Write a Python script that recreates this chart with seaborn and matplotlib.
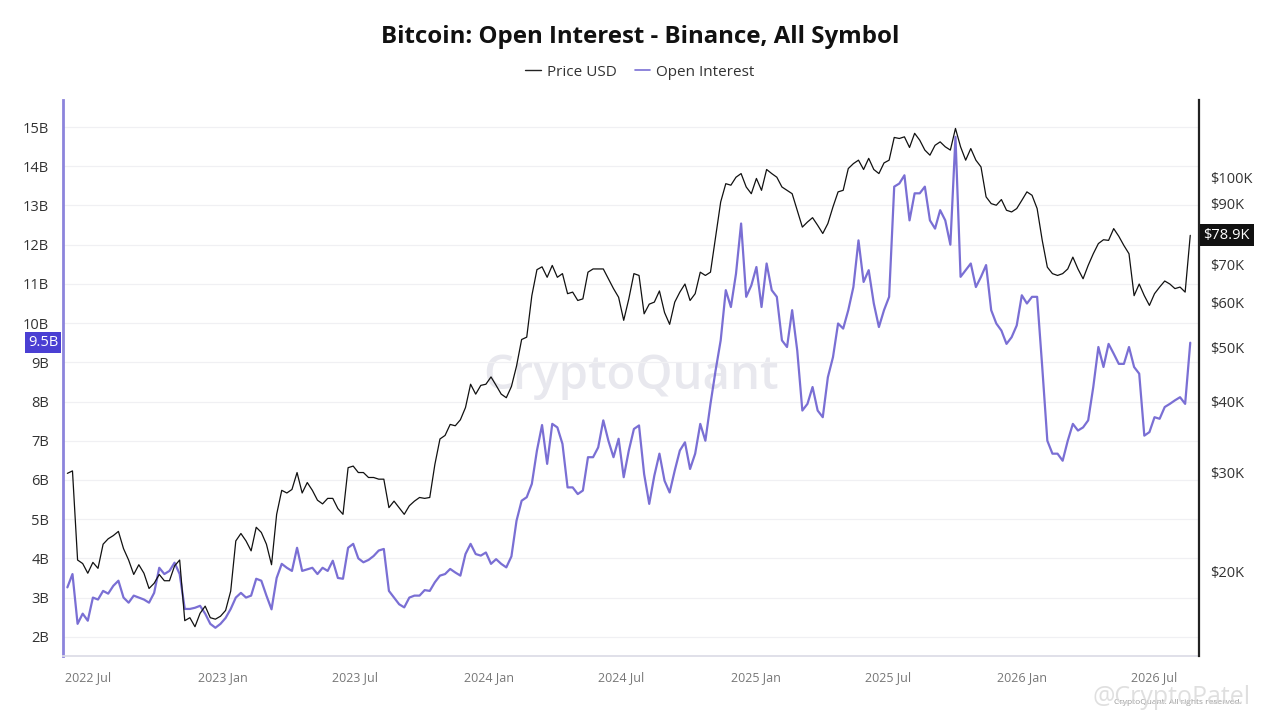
import matplotlib
matplotlib.use("Agg")
import matplotlib.pyplot as plt
import matplotlib.dates as mdates
import matplotlib.transforms as mtransforms
from matplotlib.lines import Line2D
import pandas as pd
import seaborn as sns

# weekly samples, starting 2022-06-02
start_date = "2022-06-02"

price_k = [
    29.9, 30.2, 21.0, 20.7, 19.9, 20.8, 20.3, 22.4, 22.9, 23.2,
    23.6, 22.0, 21.0, 19.8, 20.6, 19.9, 18.7, 19.1, 19.8, 19.3,
    19.3, 20.5, 21.0, 16.4, 16.6, 16.0, 16.9, 17.4, 16.6, 16.5,
    16.7, 17.1, 18.5, 22.7, 23.4, 22.7, 21.8, 24.0, 23.5, 22.4,
    20.6, 25.3, 27.9, 27.6, 28.0, 30.0, 27.6, 28.8, 27.9, 26.8,
    26.4, 27.0, 27.0, 25.9, 25.3, 30.6, 30.8, 30.0, 30.0, 29.4,
    29.4, 29.2, 29.2, 26.0, 26.7, 26.0, 25.3, 26.2, 26.7, 27.1,
    27.0, 27.1, 31.0, 34.4, 34.9, 36.5, 36.3, 37.2, 39.1, 43.0,
    41.3, 42.8, 43.0, 44.3, 42.8, 41.3, 40.7, 42.6, 46.3, 51.6,
    52.1, 61.7, 68.6, 69.4, 66.5, 69.8, 66.5, 67.5, 62.2, 62.6,
    60.5, 60.9, 67.9, 68.8, 68.8, 68.8, 66.1, 63.5, 61.3, 55.8,
    60.9, 67.5, 67.0, 57.3, 59.6, 60.1, 62.9, 57.6, 54.9, 60.1,
    62.6, 64.7, 60.5, 62.2, 67.9, 67.0, 67.9, 78.4, 90.4, 97.4,
    96.8, 100.0, 101.5, 96.1, 93.5, 99.5, 94.8, 103.2, 101.5, 100.0,
    96.1, 94.8, 93.5, 87.4, 81.6, 83.3, 84.8, 82.2, 79.5, 82.8,
    88.6, 94.2, 94.8, 103.6, 105.7, 107.2, 103.2, 108.0, 103.2, 101.5,
    106.0, 107.2, 117.6, 117.1, 117.9, 112.9, 119.6, 116.3, 111.7, 109.4,
    113.9, 115.5, 113.2, 111.7, 122.0, 113.2, 107.2, 112.4, 107.2, 104.3,
    92.3, 89.8, 89.2, 91.3, 87.4, 86.8, 88.0, 91.0, 94.2, 92.9,
    88.0, 77.3, 69.3, 67.5, 67.0, 67.5, 68.8, 72.2, 68.8, 66.1,
    69.8, 73.2, 76.3, 77.5, 77.3, 81.1, 78.6, 75.7, 73.2, 61.7,
    64.7, 61.7, 59.3, 62.2, 63.9, 65.5, 64.7, 63.5, 63.9, 62.6,
    78.9,
]

open_interest_b = [
    3.26, 3.6, 2.33, 2.59, 2.41, 3.0, 2.95, 3.17, 3.1, 3.3,
    3.43, 3.0, 2.87, 3.05, 3.0, 2.95, 2.87, 3.12, 3.76, 3.6,
    3.68, 3.89, 3.6, 2.71, 2.71, 2.74, 2.79, 2.59, 2.33, 2.23,
    2.33, 2.48, 2.71, 3.0, 3.12, 3.0, 3.05, 3.48, 3.43, 3.05,
    2.7, 3.5, 3.86, 3.76, 3.68, 4.27, 3.68, 3.72, 3.76, 3.6,
    3.76, 3.68, 3.94, 3.5, 3.48, 4.27, 4.37, 4.0, 3.9, 3.96,
    4.06, 4.2, 4.24, 3.17, 3.0, 2.83, 2.75, 3.0, 3.05, 3.05,
    3.19, 3.17, 3.39, 3.56, 3.6, 3.73, 3.64, 3.56, 4.11, 4.37,
    4.11, 4.07, 4.15, 3.86, 3.98, 3.86, 3.77, 4.05, 4.96, 5.47,
    5.56, 5.9, 6.75, 7.4, 6.41, 7.43, 7.34, 6.92, 5.81, 5.81,
    5.64, 5.73, 6.58, 6.58, 6.83, 7.52, 7.0, 6.58, 7.05, 6.07,
    6.75, 7.3, 7.39, 6.15, 5.39, 6.11, 6.67, 5.98, 5.68, 6.24,
    6.75, 6.96, 6.28, 6.67, 7.43, 7.0, 7.94, 8.79, 9.56, 10.84,
    10.41, 11.26, 12.54, 10.67, 10.96, 11.43, 10.41, 11.52, 10.84, 10.67,
    9.56, 9.39, 10.33, 9.3, 7.77, 7.94, 8.37, 7.77, 7.6, 8.62,
    9.13, 9.99, 9.86, 10.33, 10.92, 12.11, 11.05, 11.35, 10.5, 9.9,
    10.33, 10.67, 13.48, 13.56, 13.77, 12.62, 13.31, 13.31, 13.48, 12.62,
    12.41, 12.88, 12.62, 12.0, 14.75, 11.18, 11.35, 11.52, 10.92, 11.18,
    11.48, 10.33, 9.99, 9.81, 9.47, 9.64, 9.94, 10.71, 10.5, 10.67,
    10.67, 8.88, 7.0, 6.67, 6.67, 6.49, 7.0, 7.43, 7.26, 7.34,
    7.52, 8.37, 9.39, 8.88, 9.47, 9.22, 8.96, 8.96, 9.39, 8.88,
    8.71, 7.13, 7.22, 7.6, 7.56, 7.86, 7.94, 8.03, 8.11, 7.94,
    9.5,
]

oi_ticks = [2, 3, 4, 5, 6, 7, 8, 9, 10, 11, 12, 13, 14, 15]
# $80K sits under the last-value badge, so it is not listed
price_ticks = [20, 30, 40, 50, 60, 70, 90, 100]
date_ticks = ["2022-07-01", "2023-01-01", "2023-07-01", "2024-01-01", "2024-07-01",
              "2025-01-01", "2025-07-01", "2026-01-01", "2026-07-01"]

dates = pd.date_range(start_date, periods=len(price_k), freq="7D")
df = pd.DataFrame({"date": dates, "price": price_k, "oi": open_interest_b})

PURPLE = "#7a6fd4"
sns.set_theme(style="white")
plt.rcParams["font.family"] = ["Open Sans", "DejaVu Sans"]

fig = plt.figure(figsize=(12.8, 7.2), dpi=100)
ax = fig.add_axes([63 / 1280, 64 / 720, 1136 / 1280, 556 / 720])
ax2 = ax.twinx()

sns.lineplot(data=df, x="date", y="oi", ax=ax, color=PURPLE, linewidth=1.6)
sns.lineplot(data=df, x="date", y="price", ax=ax2, color="#111111", linewidth=0.9)

# left axis (open interest)
ax.set_ylim(1.51, 15.69)
ax.set_yticks(oi_ticks)
ax.set_yticklabels([f"{t}B" for t in oi_ticks], fontsize=10.5, color="#333333")
ax.tick_params(axis="y", length=0, pad=10)
ax.yaxis.grid(True, color="#f0f0f3", linewidth=0.9)
ax.xaxis.grid(False)
ax.set_xlabel("")
ax.set_ylabel("")

# right axis (price, log)
ax2.set_yscale("log")
ax2.set_ylim(14.2, 137)
ax2.set_yticks(price_ticks)
ax2.set_yticklabels([f"${t}K" for t in price_ticks], fontsize=10.5, color="#333333")
ax2.minorticks_off()
ax2.tick_params(axis="y", length=0, pad=8)
ax2.set_ylabel("")
ax2.grid(False)

# x axis
ax.set_xlim(pd.Timestamp("2022-05-27"), pd.Timestamp("2026-09-01"))
ax.set_xticks(pd.to_datetime(date_ticks))
ax.xaxis.set_major_formatter(mdates.DateFormatter("%Y %b"))
ax.tick_params(axis="x", labelsize=9, colors="#777777", length=5, width=0.8, pad=6)
for lab in ax.get_xticklabels():
    lab.set_color("#777777")

ax.spines["top"].set_visible(False)
ax2.spines["top"].set_visible(False)
ax.spines["left"].set_color("#8c84dc")
ax.spines["left"].set_linewidth(2)
ax2.spines["left"].set_visible(False)
ax.spines["right"].set_visible(False)
ax2.spines["right"].set_color("#222222")
ax2.spines["right"].set_linewidth(1.6)
ax.spines["bottom"].set_color("#dcdce6")
ax2.spines["bottom"].set_visible(False)

# last-value badges
t_left = mtransforms.blended_transform_factory(ax.transAxes, ax.transData)
ax.text(-0.004, open_interest_b[-1], f"{open_interest_b[-1]}B", transform=t_left,
        ha="right", va="center", fontsize=10.5, color="white", zorder=10, clip_on=False,
        bbox=dict(boxstyle="square,pad=0.2", facecolor="#4a3fd3", edgecolor="none"))
t_right = mtransforms.blended_transform_factory(ax2.transAxes, ax2.transData)
ax2.text(1.004, price_k[-1], f"${price_k[-1]}K", transform=t_right,
         ha="left", va="center", fontsize=10.5, color="white", zorder=10, clip_on=False,
         bbox=dict(boxstyle="square,pad=0.25", facecolor="#111111", edgecolor="none"))

# watermark
ax.text(0.5, 0.502, "CryptoQuant", transform=ax.transAxes, ha="center", va="center",
        fontsize=34, color="#e8e8ee", fontweight="semibold", zorder=0.5)

# title and legend
fig.text(0.5, 1 - 37 / 720, "Bitcoin: Open Interest - Binance, All Symbol",
         ha="center", va="center", fontsize=17.3, fontweight="bold", color="#111111")
handles = [Line2D([], [], color="#222222", linewidth=1),
           Line2D([], [], color=PURPLE, linewidth=1.2)]
fig.legend(handles, ["Price USD", "Open Interest"], loc="center",
           bbox_to_anchor=(0.5, 1 - 72 / 720), ncol=2, frameon=False, fontsize=11,
           handlelength=1.0, handletextpad=0.4, columnspacing=1.2, labelcolor="#333333")

fig.text(1178 / 1280, 1 - 702 / 720, "CryptoQuant. All rights reserved.", ha="center",
         va="center", fontsize=6, color="#999999")
fig.text(1172 / 1280, 1 - 697 / 720, "@CryptoPatel", ha="center", va="center",
         fontsize=18, color="#d8d8d8", alpha=0.8)

fig.savefig("out.png", dpi=100)
